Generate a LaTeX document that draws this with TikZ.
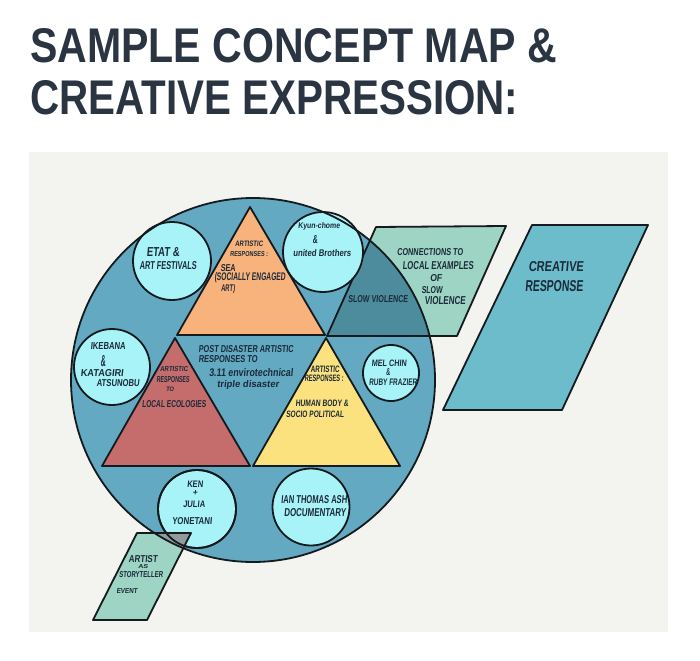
\documentclass[tikz,border=0pt]{standalone}
\usepackage{fontspec}
\usepackage{graphicx}
\setmainfont{Liberation Sans}
\newfontfamily\handfont{Liberation Sans Bold}[FakeSlant=0.12]
\newfontfamily\titlefont{Liberation Sans}
\definecolor{panel}{HTML}{F3F3EF}
\definecolor{titlecol}{HTML}{2B3542}
\definecolor{bigblue}{HTML}{62A9C1}
\definecolor{darkteal}{HTML}{4C8C9C}
\definecolor{mint}{HTML}{9DD4C4}
\definecolor{creative}{HTML}{6CBCCB}
\definecolor{cyanlt}{HTML}{A8F3F8}
\definecolor{orangef}{HTML}{F8B27B}
\definecolor{redf}{HTML}{C56C6C}
\definecolor{yellowf}{HTML}{FBE27F}
\definecolor{grayov}{HTML}{8F9B9C}
\definecolor{outline}{HTML}{151A1E}
\definecolor{ink}{HTML}{1C2B3A}
\newcommand{\hw}[3]{\resizebox{#1pt}{#2pt}{\handfont #3}}
\begin{document}
\begin{tikzpicture}[x=1pt,y=-1pt,
  outl/.style={draw=outline, line width=1.8pt, line join=round},
  bubble/.style={circle, draw=outline, line width=1.8pt, fill=cyanlt, minimum size=#1, inner sep=0pt},
  hand/.style={text=ink, inner sep=0pt, anchor=center},
  ttl/.style={text=titlecol, inner sep=0pt, anchor=west}]
\useasboundingbox (0,0) rectangle (700,660);
\fill[white] (0,0) rectangle (700,660);
\fill[panel] (29,152) rectangle (668,632);

% title
\node[ttl] (title1) at (30,45.5) {\resizebox{527pt}{34pt}{\titlefont\bfseries SAMPLE CONCEPT MAP \&}};
\node[ttl] (title2) at (30,97.5) {\resizebox{488pt}{34pt}{\titlefont\bfseries CREATIVE EXPRESSION:}};

% creative response parallelogram
\filldraw[outl, fill=creative] (443,410) -- (562,410) -- (648,225) -- (532,225) -- cycle;

% connections parallelogram (outside part)
\fill[mint] (327,336) -- (457,336) -- (506,226) -- (376,227) -- cycle;

% big circle
\fill[bigblue] (253,380) circle[radius=182];
\begin{scope}
  \clip (253,380) circle[radius=182];
  \fill[darkteal] (327,336) -- (457,336) -- (506,226) -- (376,227) -- cycle;
\end{scope}
\draw[outl] (327,336) -- (457,336) -- (506,226) -- (376,227) -- cycle;

% artist parallelogram
\fill[mint] (93,620) -- (147,620) -- (191,533) -- (137,533) -- cycle;

% triangles
\filldraw[outl, fill=orangef] (250,207) -- (325,335) -- (177,335) -- cycle;
\filldraw[outl, fill=redf] (175,338) -- (250,466) -- (102,466) -- cycle;
\filldraw[outl, fill=yellowf] (326,338) -- (400,466) -- (253,466) -- cycle;

% bubbles
\node[bubble=78] (etat) at (172,261) {};
\node[bubble=80] (kyun) at (323,252) {};
\node[bubble=76] (ikebana) at (112,367) {};
\node[bubble=56] (mel) at (391,373) {};
\node[bubble=78] (ken) at (197,509) {};
\node[bubble=77] (ian) at (311,507) {};

% grey overlap of the artist parallelogram
\begin{scope}
  \clip (93,620) -- (147,620) -- (191,533) -- (137,533) -- cycle;
  \fill[grayov] (253,380) circle[radius=182];
  \fill[grayov] (ken.center) circle[radius=39];
\end{scope}
\draw[outl] (93,620) -- (147,620) -- (191,533) -- (137,533) -- cycle;
\draw[outl] (253,380) circle[radius=182];
\draw[outl] (ken.center) circle[radius=39];

% texts: ETAT
\node[hand] (etat1) at (163,252) {\hw{33}{9}{ETAT \&}};
\node[hand] (etat2) at (168,266) {\hw{57}{8}{ART FESTIVALS}};
% orange triangle
\node[hand] (or1) at (249,244) {\hw{28}{5.5}{ARTISTIC}};
\node[hand] (or2) at (249,254) {\hw{38}{5}{RESPONSES :}};
\node[hand] (or3) at (228,268) {\hw{15}{7}{SEA}};
\node[hand] (or4) at (250,278) {\hw{71}{8}{(SOCIALLY ENGAGED}};
\node[hand] (or5) at (228,289) {\hw{14}{7}{ART)}};
% kyun
\node[hand] (ky1) at (319,226) {\hw{42}{6}{Kyun-chome}};
\node[hand] (ky2) at (315,240) {\hw{5}{8}{\&}};
\node[hand] (ky3) at (322,253) {\hw{58}{7}{united Brothers}};
% slow violence
\node[hand] (sv) at (378,299) {\hw{60}{7}{SLOW VIOLENCE}};
% connections
\node[hand] (cn1) at (430,252) {\hw{66}{7}{CONNECTIONS TO}};
\node[hand] (cn2) at (438,266) {\hw{71}{8}{LOCAL EXAMPLES}};
\node[hand] (cn3) at (436,278) {\hw{12}{7}{OF}};
\node[hand] (cn4) at (432,290) {\hw{21}{7}{SLOW}};
\node[hand] (cn5) at (445,301) {\hw{41}{8}{VIOLENCE}};
% creative response
\node[hand] (cr1) at (556,267) {\hw{55}{10}{CREATIVE}};
\node[hand] (cr2) at (554,286) {\hw{58}{11}{RESPONSE}};
% ikebana
\node[hand] (ik1) at (108,346) {\hw{35}{7}{IKEBANA}};
\node[hand] (ik2) at (103,361) {\hw{5}{11}{\&}};
\node[hand] (ik3) at (102,373) {\hw{43}{7}{KATAGIRI}};
\node[hand] (ik4) at (118,383) {\hw{43}{7}{ATSUNOBU}};
% red triangle
\node[hand] (rd1) at (174,369) {\hw{28}{5}{ARTISTIC}};
\node[hand] (rd2) at (173,380) {\hw{33}{6}{RESPONSES}};
\node[hand] (rd3) at (170,389) {\hw{8}{4.5}{TO}};
\node[hand] (rd4) at (174,404) {\hw{64}{7}{LOCAL ECOLOGIES}};
% middle
\node[hand] (md1) at (246,349) {\hw{95}{7}{POST DISASTER ARTISTIC}};
\node[hand] (md2) at (228,359) {\hw{59}{7}{RESPONSES TO}};
\node[hand] (md3) at (251,373) {\hw{84}{8}{3.11 envirotechnical}};
\node[hand] (md4) at (248,385) {\hw{62}{7}{triple disaster}};
% yellow triangle
\node[hand] (yl1) at (325,369) {\hw{29}{6.5}{ARTISTIC}};
\node[hand] (yl2) at (324,378) {\hw{39}{6.5}{RESPONSES :}};
\node[hand] (yl3) at (322,403) {\hw{53}{6.5}{HUMAN BODY \&}};
\node[hand] (yl4) at (315,414) {\hw{58}{6.5}{SOCIO POLITICAL}};
% mel chin
\node[hand] (ml1) at (389,363) {\hw{35}{6.5}{MEL CHIN}};
\node[hand] (ml2) at (388,372) {\hw{4}{7}{\&}};
\node[hand] (ml3) at (393,382) {\hw{48}{6.5}{RUBY FRAZIER}};
% ken
\node[hand] (kn1) at (195,484) {\hw{16}{6.5}{KEN}};
\node[hand] (kn2) at (195,493) {\hw{5}{5}{+}};
\node[hand] (kn3) at (194,504) {\hw{22}{6.5}{JULIA}};
\node[hand] (kn4) at (192,521) {\hw{40}{7}{YONETANI}};
% ian
\node[hand] (ia1) at (314,500) {\hw{66}{8}{IAN THOMAS ASH}};
\node[hand] (ia2) at (315,513) {\hw{62}{8}{DOCUMENTARY}};
% artist
\node[hand] (ar1) at (143,559) {\hw{29}{7}{ARTIST}};
\node[hand] (ar2) at (143,567) {\hw{10}{4}{AS}};
\node[hand] (ar3) at (141,575) {\hw{44}{6}{STORYTELLER}};
\node[hand] (ar4) at (127,591) {\hw{21}{5}{EVENT}};
\end{tikzpicture}
\end{document}
